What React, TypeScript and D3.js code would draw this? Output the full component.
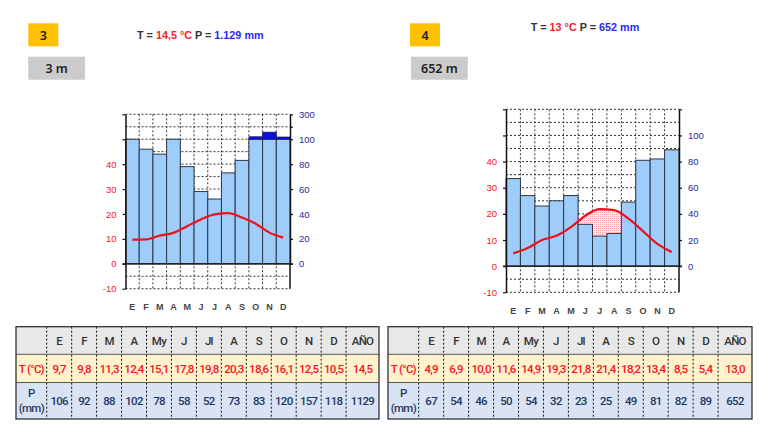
import React, { useEffect, useRef } from "react";
import * as d3 from "d3";

const axisMonths = ["E", "F", "M", "A", "M", "J", "J", "A", "S", "O", "N", "D"];
const tableMonths = ["E", "F", "M", "A", "My", "J", "Jl", "A", "S", "O", "N", "D", "AÑO"];

const tempA = [9.7, 9.8, 11.3, 12.4, 15.1, 17.8, 19.8, 20.3, 18.6, 16.1, 12.5, 10.5];
const precA = [106, 92, 88, 102, 78, 58, 52, 73, 83, 120, 157, 118];
const tempB = [4.9, 6.9, 10.0, 11.6, 14.9, 19.3, 21.8, 21.4, 18.2, 13.4, 8.5, 5.4];
const precB = [67, 54, 46, 50, 54, 32, 23, 25, 49, 81, 82, 89];

const leftTicks = [-10, 0, 10, 20, 30, 40, 50, 60];
const leftLabels = [-10, 0, 10, 20, 30, 40];
const rightTicksA = [0, 20, 40, 60, 80, 100, 200, 300];
const rightLabelsA = [0, 20, 40, 60, 80, 100, 300];
const rightTicksB = [0, 20, 40, 60, 80, 100, 120];
const rightLabelsB = [0, 20, 40, 60, 80, 100];

const comma = (v: number) => v.toFixed(1).replace(".", ",");

function Climograph({
  id,
  temp,
  prec,
  left,
  right,
  top,
  bottom,
  precDomain,
  rightTicks,
  rightLabels,
  labelY,
  labelGap,
}: {
  id: string;
  temp: number[];
  prec: number[];
  left: number;
  right: number;
  top: number;
  bottom: number;
  precDomain: number[];
  rightTicks: number[];
  rightLabels: number[];
  labelY: number;
  labelGap: number;
}) {
  const ref = useRef<SVGGElement>(null);

  useEffect(() => {
    const g = d3.select(ref.current);
    g.selectAll("*").remove();

    const x = d3
      .scaleBand<number>()
      .domain(d3.range(12))
      .range([left, right]);
    const yT = d3.scaleLinear().domain([-10, 60]).range([bottom, top]);
    // el eje de precipitación cambia de escala por encima de 100 en la primera estación
    const yP = d3
      .scaleLinear()
      .domain(precDomain)
      .range(precDomain.length === 3 ? [yT(0), yT(50), yT(60)] : [yT(0), yT(60)]);

    // rejilla punteada
    g.append("g")
      .selectAll("line")
      .data(d3.range(-10, 65, 5))
      .join("line")
      .attr("x1", left)
      .attr("x2", right)
      .attr("y1", (d) => yT(d))
      .attr("y2", (d) => yT(d))
      .attr("stroke", "#333")
      .attr("stroke-dasharray", "2 2");
    g.append("g")
      .selectAll("line")
      .data(d3.range(1, 12))
      .join("line")
      .attr("x1", (d) => x(d)!)
      .attr("x2", (d) => x(d)!)
      .attr("y1", top)
      .attr("y2", bottom)
      .attr("stroke", "#333")
      .attr("stroke-dasharray", "2 2");

    const cx = (i: number) => x(i)! + x.bandwidth() / 2;

    // periodo árido: queda visible solo donde la curva supera a las barras
    const area = d3
      .area<number>()
      .x((_, i) => cx(i))
      .y0(yT(0))
      .y1((d) => yT(d))
      .curve(d3.curveMonotoneX);
    const defs = g.append("defs");
    const pat = defs
      .append("pattern")
      .attr("id", id)
      .attr("width", 2)
      .attr("height", 2)
      .attr("patternUnits", "userSpaceOnUse");
    pat.append("rect").attr("width", 2).attr("height", 2).attr("fill", "#fdeaea");
    pat.append("rect").attr("width", 1).attr("height", 1).attr("fill", "#f8a5a5");
    g.append("path").datum(temp).attr("d", area).attr("fill", `url(#${id})`);

    // barras de precipitación
    g.append("g")
      .selectAll("rect")
      .data(prec)
      .join("rect")
      .attr("x", (_, i) => x(i)!)
      .attr("width", x.bandwidth())
      .attr("y", (d) => yP(Math.min(d, 100)))
      .attr("height", (d) => yP(0) - yP(Math.min(d, 100)))
      .attr("fill", "#9ecdfb")
      .attr("stroke", "#2e3642")
      .attr("stroke-width", 1);
    g.append("g")
      .selectAll("rect")
      .data(prec.map((d, i) => ({ d, i })).filter((e) => e.d > 110))
      .join("rect")
      .attr("x", (e) => x(e.i)!)
      .attr("width", x.bandwidth())
      .attr("y", (e) => yP(e.d))
      .attr("height", (e) => yP(100) - yP(e.d))
      .attr("fill", "#0a10e0")
      .attr("stroke", "#1a1a50")
      .attr("stroke-width", 0.6);

    // curva de temperatura
    const line = d3
      .line<number>()
      .x((_, i) => cx(i))
      .y((d) => yT(d))
      .curve(d3.curveMonotoneX);
    g.append("path")
      .datum(temp)
      .attr("d", line)
      .attr("fill", "none")
      .attr("stroke", "#f0101c")
      .attr("stroke-width", 2.2);

    // línea de cero
    g.append("line")
      .attr("x1", left - 3)
      .attr("x2", right + 3)
      .attr("y1", yT(0))
      .attr("y2", yT(0))
      .attr("stroke", "#111")
      .attr("stroke-width", 1.2);

    const styleAxis = (sel: any, color: string) => {
      sel.select(".domain").attr("stroke", "#111").attr("stroke-width", 1.5);
      sel.selectAll(".tick line").attr("stroke", "#111").attr("stroke-width", 1.2);
      sel
        .selectAll("text")
        .attr("fill", color)
        .attr("font-family", "Liberation Sans")
        .attr("font-size", 9.5);
    };

    const axisL = d3
      .axisLeft(yT)
      .tickValues(leftTicks)
      .tickSize(3)
      .tickSizeOuter(0)
      .tickPadding(labelGap)
      .tickFormat((d) => (leftLabels.includes(+d) ? String(d) : ""));
    g.append("g")
      .attr("transform", `translate(${left},0)`)
      .call(axisL as any)
      .call((s: any) => styleAxis(s, "#f5141e"));

    const axisR = d3
      .axisRight(yP)
      .tickValues(rightTicks)
      .tickSize(3)
      .tickSizeOuter(0)
      .tickPadding(labelGap)
      .tickFormat((d) => (rightLabels.includes(+d) ? String(d) : ""));
    const rightAxis = g
      .append("g")
      .attr("transform", `translate(${right},0)`)
      .call(axisR as any)
      .call((s: any) => styleAxis(s, "#2a2a9c"));
    // la parte del eje derecho bajo el cero
    rightAxis
      .append("line")
      .attr("y1", yT(0))
      .attr("y2", bottom)
      .attr("stroke", "#111")
      .attr("stroke-width", 1.5);

    // meses
    g.append("g")
      .selectAll("text")
      .data(axisMonths)
      .join("text")
      .attr("x", (_, i) => cx(i))
      .attr("y", labelY)
      .attr("text-anchor", "middle")
      .attr("font-family", "Liberation Sans")
      .attr("font-size", 9)
      .attr("font-weight", 700)
      .attr("fill", "#444")
      .text((d) => d);
  }, []);

  return <g ref={ref} />;
}

function ClimateTable({
  temp,
  prec,
  tempYear,
  precYear,
  x0,
  x1,
  xEnd,
}: {
  temp: number[];
  prec: number[];
  tempYear: string;
  precYear: string;
  x0: number;
  x1: number;
  xEnd: number;
}) {
  const rowY = [326.7, 354.3, 382.5, 419];
  const colW = 24.95;
  const col = d3
    .scaleBand<string>()
    .domain(d3.range(12).map(String))
    .range([x1, x1 + colW * 12]);
  const lastX = x1 + colW * 12;
  const cellX = (i: number) =>
    i < 12 ? col(String(i))! + colW / 2 : (lastX + xEnd) / 2;
  const font = {
    fontFamily: "Roboto",
    fontSize: 11.5,
    fontWeight: 500,
    letterSpacing: -0.7,
    textAnchor: "middle" as const,
  };
  const tText = [...temp.map(comma), tempYear];
  const pText = [...prec.map(String), precYear];

  return (
    <g>
      <rect x={x0} y={rowY[0]} width={xEnd - x0} height={rowY[1] - rowY[0]} fill="#e8e8e8" />
      <rect x={x0} y={rowY[1]} width={xEnd - x0} height={rowY[2] - rowY[1]} fill="#fff2cc" />
      <rect x={x0} y={rowY[2]} width={xEnd - x0} height={rowY[3] - rowY[2]} fill="#dae3f3" />
      {[x1, ...col.domain().map((c) => col(c)! + colW)].map((v) => (
        <line key={v} x1={v} x2={v} y1={rowY[0]} y2={rowY[3]} stroke="#111" strokeDasharray="2 2" />
      ))}
      {[rowY[1], rowY[2]].map((v) => (
        <line key={v} x1={x0} x2={xEnd} y1={v} y2={v} stroke="#555" />
      ))}
      <rect
        x={x0}
        y={rowY[0]}
        width={xEnd - x0}
        height={rowY[3] - rowY[0]}
        fill="none"
        stroke="#333"
        strokeWidth={1.3}
      />
      {tableMonths.map((m, i) => (
        <text key={i} x={cellX(i)} y={345} {...font} fill="#333">
          {m}
        </text>
      ))}
      {tText.map((t, i) => (
        <text key={i} x={cellX(i)} y={373} {...font} fill="#f5141e">
          {t}
        </text>
      ))}
      {pText.map((t, i) => (
        <text key={i} x={cellX(i)} y={405} {...font} fill="#1f3864">
          {t}
        </text>
      ))}
      <text x={(x0 + x1) / 2} y={373} {...font} fill="#f5141e">
        T (°C)
      </text>
      <text x={(x0 + x1) / 2} y={397} {...font} fill="#1f3864">
        P
      </text>
      <text x={(x0 + x1) / 2} y={412} {...font} fill="#1f3864">
        (mm)
      </text>
    </g>
  );
}

function Header({
  num,
  alt,
  numX,
  altX,
  altW,
  titleX,
  titleY,
  t,
  p,
}: {
  num: string;
  alt: string;
  numX: number;
  altX: number;
  altW: number;
  titleX: number;
  titleY: number;
  t: string;
  p: string;
}) {
  const boxFont = { fontFamily: "Noto Sans", fontSize: 12.5, fontWeight: 600, textAnchor: "middle" as const, fill: "#222" };
  return (
    <g>
      <rect x={numX} y={23.3} width={30} height={23} fill="#ffc000" />
      <text x={numX + 15} y={39.5} {...boxFont}>
        {num}
      </text>
      <rect x={altX} y={56.7} width={altW} height={23} fill="#cccbcb" />
      <text x={altX + altW / 2} y={72.5} {...boxFont}>
        {alt}
      </text>
      <text x={titleX} y={titleY} fontFamily="Liberation Sans" fontSize={10.8} fontWeight={700} fill="#333">
        T = <tspan fill="#f5222c">{t} °C</tspan> P = <tspan fill="#2a2aee">{p} mm</tspan>
      </text>
    </g>
  );
}

export default function App() {
  return (
    <svg width={768} height={433} style={{ position: "fixed", left: 0, top: 0, background: "#fff" }}>
      <Header num="3" alt="3 m" numX={28.3} altX={28.3} altW={56.7} titleX={137} titleY={39} t="14,5" p="1.129" />
      <Header num="4" alt="652 m" numX={410} altX={411} altW={56.7} titleX={530.7} titleY={31} t="13" p="652" />
      <Climograph
        id="aridA"
        temp={tempA}
        prec={precA}
        left={125.5}
        right={290}
        top={114.3}
        bottom={288.7}
        precDomain={[0, 100, 300]}
        rightTicks={rightTicksA}
        rightLabels={rightLabelsA}
        labelY={310}
        labelGap={6}
      />
      <Climograph
        id="aridB"
        temp={tempB}
        prec={precB}
        left={506}
        right={679}
        top={109.3}
        bottom={292.3}
        precDomain={[0, 120]}
        rightTicks={rightTicksB}
        rightLabels={rightLabelsB}
        labelY={313.5}
        labelGap={6}
      />
      <ClimateTable temp={tempA} prec={precA} tempYear="14,5" precYear="1129" x0={16} x1={46.7} xEnd={379} />
      <ClimateTable temp={tempB} prec={precB} tempYear="13,0" precYear="652" x0={388} x1={418.7} xEnd={752} />
    </svg>
  );
}
